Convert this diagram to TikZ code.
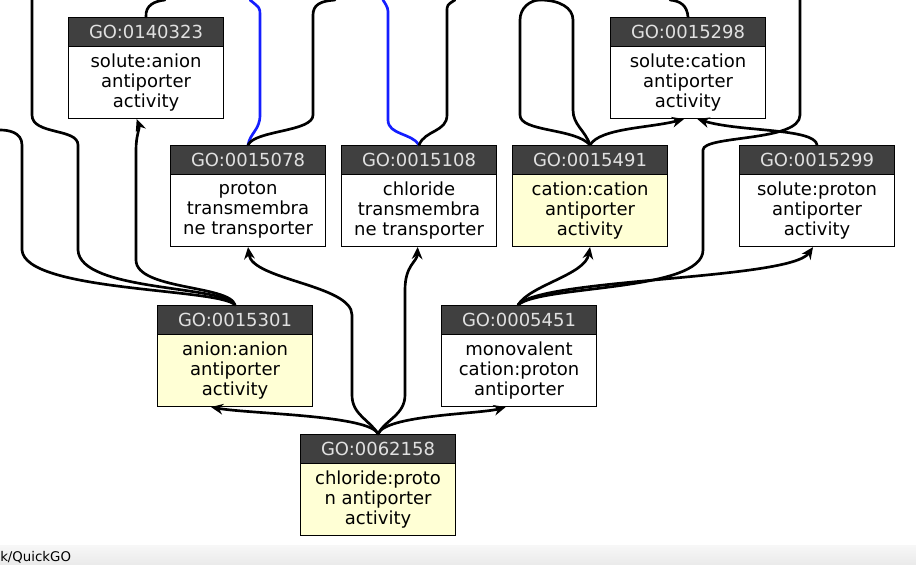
\documentclass[tikz,border=0pt]{standalone}
\usepackage{fontspec}
\setmainfont{DejaVu Sans}
\usetikzlibrary{arrows.meta}
\definecolor{hdr}{HTML}{404040}
\definecolor{yel}{HTML}{FFFFD5}
\begin{document}
\begin{tikzpicture}[x=0.75pt,y=-0.75pt,
  hd/.style={fill=hdr,draw=black,line width=0.8pt,text=white!88!black,minimum width=116.25pt,minimum height=21.75pt,inner sep=0pt,anchor=north west,font=\fontsize{13.5}{15}\selectfont},
  bd/.style={draw=black,line width=0.8pt,minimum width=116.25pt,minimum height=54pt,inner sep=0pt,anchor=north west,align=center,font=\fontsize{13.5}{15}\selectfont},
  ed/.style={line width=2pt,line cap=round},
  ar/.style={ed,-{Stealth[length=9pt,width=8pt]}},
  bl/.style={ed,draw={rgb,255:red,20;green,30;blue,255}}]
\useasboundingbox (0,0) rectangle (916,564);
\begin{scope}
\clip (0,0) rectangle (916,564);
\shade[top color=white!97!black,bottom color=white!92!black] (0,545) rectangle (916,564);
\node[anchor=west,inner sep=0pt,font=\fontsize{10}{12}\selectfont] (foot) at (0,557) {k/QuickGO};
% boxes
\node[hd] (a) at (68,17) {GO:0140323};
\node[bd,fill=white] (ab) at (68,46) {solute:anion\\antiporter\\activity};
\node[hd] (b) at (170,145) {GO:0015078};
\node[bd,fill=white] (bb) at (170,174) {proton\\transmembra\\ne transporter};
\node[hd] (c) at (341,145) {GO:0015108};
\node[bd,fill=white] (cb) at (341,174) {chloride\\transmembra\\ne transporter};
\node[hd] (d) at (512,145) {GO:0015491};
\node[bd,fill=yel] (db) at (512,174) {cation:cation\\antiporter\\activity};
\node[hd] (e) at (739,145) {GO:0015299};
\node[bd,fill=white] (eb) at (739,174) {solute:proton\\antiporter\\activity};
\node[hd] (f) at (610,17) {GO:0015298};
\node[bd,fill=white] (fb) at (610,46) {solute:cation\\antiporter\\activity};
\node[hd] (g) at (157,305) {GO:0015301};
\node[bd,fill=yel] (gb) at (157,334) {anion:anion\\antiporter\\activity};
\node[hd] (h) at (441,305) {GO:0005451};
\node[bd,fill=white] (hb) at (441,334) {monovalent\\cation:proton\\antiporter};
\node[hd] (k) at (300,434) {GO:0062158};
\node[bd,fill=yel] (kb) at (300,463) {chloride:proto\\n antiporter\\activity};
% free ends
\coordinate (t1) at (32,0); \coordinate (t2) at (0,130);
\coordinate (t3) at (165,0); \coordinate (t4) at (250,0);
\coordinate (t5) at (335,0); \coordinate (t6) at (383,0);
\coordinate (t7) at (455,0); \coordinate (t8) at (540,0);
\coordinate (t9) at (670,0); \coordinate (t10) at (800,0);
% edges
\draw[ar] (k.north) .. controls (370,415) and (250,414) .. ([xshift=-18pt]gb.south);
\draw[ar] (k.north) .. controls (385,415) and (480,414) .. ([xshift=-10pt]hb.south);
\draw[ar] (k.north) .. controls (370,420) and (352,415) .. (352,395) -- (352,315) .. controls (352,285) and (252,280) .. (bb.south);
\draw[ar] (k.north) .. controls (385,420) and (405,415) .. (405,395) -- (405,290) .. controls (405,265) and (417,262) .. ([xshift=-1pt]cb.south);
\draw[ar] (g.north) .. controls (230,285) and (136,290) .. (136,260) -- (136,150) .. controls (136,135) and (140,128) .. ([xshift=-7pt]ab.south);
\draw[ed] (g.north) .. controls (225,285) and (80,292) .. (78,250) -- (78,145) .. controls (78,128) and (32,135) .. (32,115) -- (t1);
\draw[ed] (g.north) .. controls (220,288) and (25,292) .. (22,250) -- (22,145) .. controls (22,132) and (8,130) .. (t2);
\draw[ar] (h.north west) ++(77,0) .. controls (530,285) and (585,275) .. (db.south);
\draw[ar] (h.north west) ++(77,0) .. controls (540,278) and (790,280) .. ([xshift=-3pt]eb.south);
\draw[ed] (h.north west) ++(77,0) .. controls (540,285) and (703,292) .. (703,250) -- (703,150) .. controls (703,135) and (800,142) .. (800,115) -- (t10);
\draw[ar] (d.north) .. controls (600,128) and (650,128) .. ([xshift=-3pt]fb.south);
\draw[ed] (d.north) .. controls (585,130) and (573,125) .. (573,110) -- (573,20) .. controls (573,8) and (560,0) .. (t8);
\draw[ed] (d.north) .. controls (575,128) and (520,132) .. (520,115) -- (520,20) .. controls (520,8) and (530,0) .. (t8);
\draw[ar] (e.north) .. controls (815,128) and (740,132) .. ([xshift=7pt]fb.south);
\draw[ed] (f.north) .. controls (687,5) and (680,1) .. (t9);
\draw[ed] (a.north) .. controls (145,5) and (155,1) .. (t3);
\draw[bl] (b.north) .. controls (250,133) and (260,130) .. (260,115) -- (260,15) .. controls (260,8) .. (t4);
\draw[ed] (b.north) .. controls (255,130) and (313,132) .. (313,115) -- (313,15) .. controls (313,5) and (320,1) .. (t5);
\draw[bl] (c.north) .. controls (412,133) and (388,135) .. (388,120) -- (388,15) .. controls (388,8) .. (t6);
\draw[ed] (c.north) .. controls (425,130) and (447,132) .. (447,115) -- (447,12) .. controls (447,5) .. (t7);
\end{scope}
\end{tikzpicture}
\end{document}
